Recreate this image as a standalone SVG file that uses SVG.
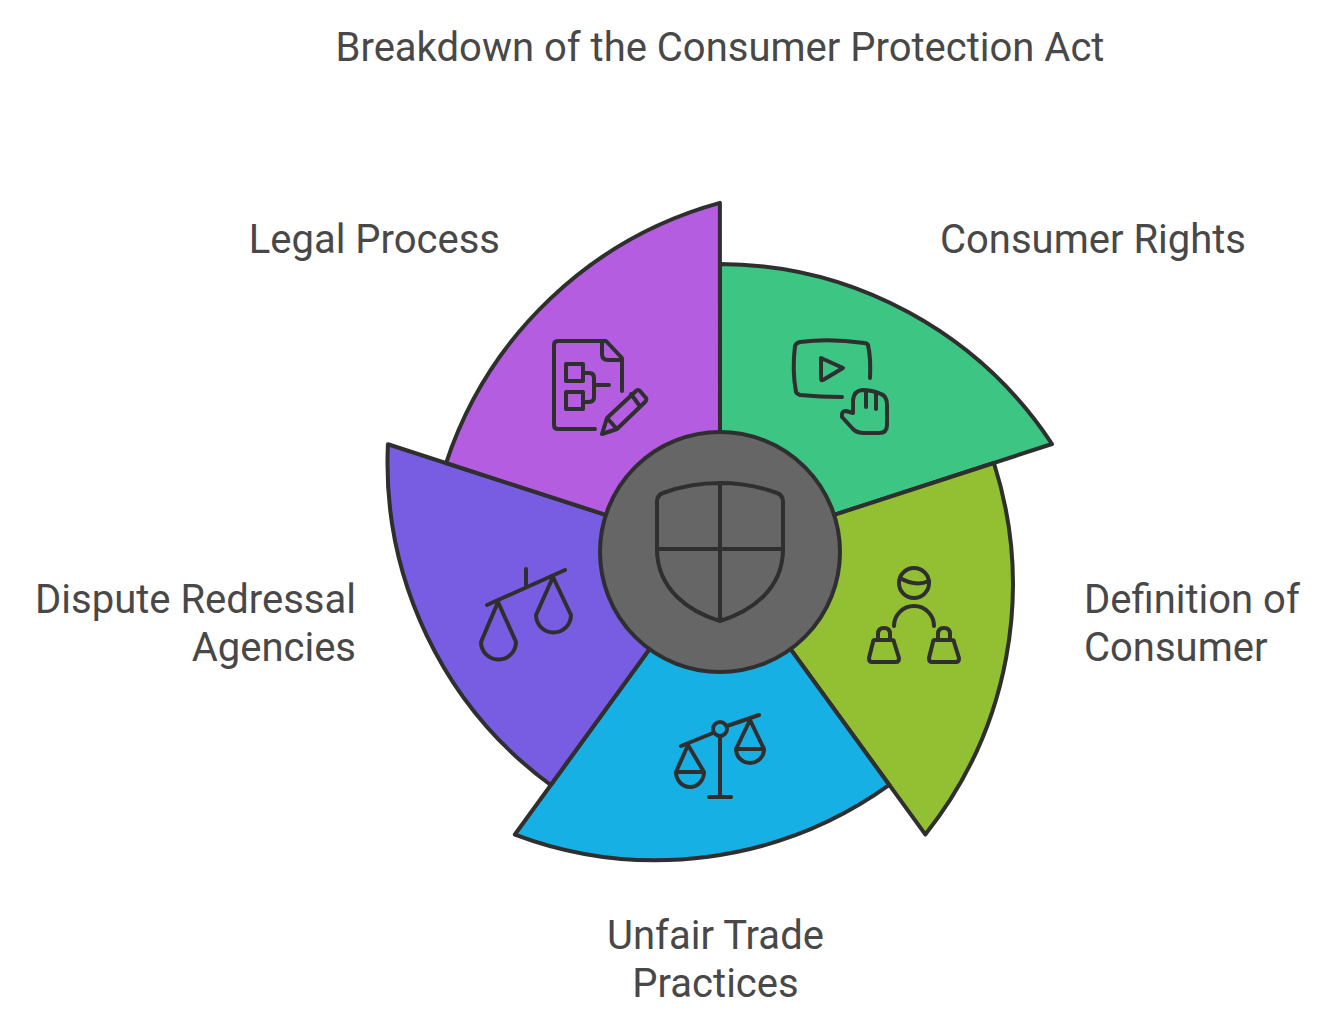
<svg xmlns="http://www.w3.org/2000/svg" width="1344" height="1032" viewBox="0 0 1344 1032">
<style>
text{font-family:Roboto,"Liberation Sans",sans-serif;font-size:40px;fill:#484848}
.s{stroke:#2f2f2f;stroke-width:4;stroke-linejoin:round}
.i{fill:none;stroke:#2f2f2f;stroke-width:4;stroke-linecap:round;stroke-linejoin:round}
</style>
<defs><path id="sector" d="M720 552V264A400 400 0 0 1 1052 444Z"/></defs>
<rect width="1344" height="1032" fill="#fff"/>
<text x="720" y="61" text-anchor="middle">Breakdown of the Consumer Protection Act</text>
<g id="connectors"></g>
<g id="node-rights">
<use href="#sector" class="s" fill="#3cc583"/>
<path class="i" d="M870 378Q871 358 868 345Q867 343 864 343Q830 338 800 342Q796 343 795 346Q792 370 796 392Q797 394 800 395Q820 397 842 397M821 358L843 368L823 380Q821 381 821 378Z"/>
<path class="i" d="M853 413L846 411Q841 411 842 417L853 429Q857 433 864 433H879Q887 433 887 425V405Q887 396 881 394Q872 390 862 390Q854 391 853 400V413M866 392V407M876 392V409"/>
<text x="940" y="253">Consumer Rights</text>
</g>
<g id="node-definition">
<use href="#sector" class="s" fill="#93c032" transform="rotate(72 720 552)"/>
<circle class="i" cx="914" cy="583" r="15"/>
<path class="i" d="M900 578Q915 587 929 581M894 626A20 20 0 0 1 934 626"/>
<path class="i" d="M878 640V634Q878 628 884 628Q890 628 890 634V640M875 640H892Q894 640 894 642L899 658Q899 662 896 662H872Q869 662 869 658L873 642Q873 640 875 640Z"/>
<path class="i" d="M938 640V634Q938 628 944 628Q950 628 950 634V640M935 640H952Q954 640 954 642L959 658Q959 662 956 662H932Q929 662 929 658L933 642Q933 640 935 640Z"/>
<text x="1084" y="613">Definition of</text>
<text x="1084" y="661">Consumer</text>
</g>
<g id="node-unfair">
<use href="#sector" class="s" fill="#16b0e4" transform="rotate(144 720 552)"/>
<path class="i" d="M681 746L713 733M727 726L759 715M720 736V797M709 797H731"/>
<circle class="i" cx="720" cy="729" r="7"/>
<path class="i" d="M688 745L676 772H704ZM676 772A14 15 0 0 0 704 772M750 720L736 749H764ZM736 749A14 14 0 0 0 764 749"/>
<text x="715.500" y="949" text-anchor="middle">Unfair Trade</text>
<text x="715.500" y="997" text-anchor="middle">Practices</text>
</g>
<g id="node-dispute">
<use href="#sector" class="s" fill="#785de2" transform="rotate(216 720 552)"/>
<path class="i" d="M487 605L565 570M526 569V586M498 602L481 642A17.500 17.500 0 0 0 516 642ZM553 577L536 615A17.500 17.500 0 0 0 571 615Z"/>
<text x="356" y="613" text-anchor="end">Dispute Redressal</text>
<text x="356" y="661" text-anchor="end">Agencies</text>
</g>
<g id="node-legal">
<use href="#sector" class="s" fill="#b55de0" transform="rotate(288 720 552)"/>
<path class="i" d="M595 429H558Q554 429 554 425V345Q554 341 558 341H606L622 358V391M602 341V354Q602 360 608 360H622"/>
<path class="i" d="M566 364H583V381H566ZM566 392H583V409H566ZM583 373H589Q594 373 594 378V397Q594 402 589 402H583M594 385H609"/>
<path class="i" d="M602 434L607 418L636 391Q638 389 640 391L646 398Q647 400 645 402L617 429ZM607 418L617 429M631 394L639 405"/>
<text x="500" y="253" text-anchor="end">Legal Process</text>
</g>
<g id="node-center">
<circle cx="720" cy="552" r="120" class="s" fill="#666"/>
<path class="i" d="M720 483Q690 483 663 493Q657 495 657 502V549C657 590 690 612 720 621C750 612 783 590 783 549V502Q783 495 777 493Q750 483 720 483ZM720 483V621M657 549H783"/>
</g>
</svg>
